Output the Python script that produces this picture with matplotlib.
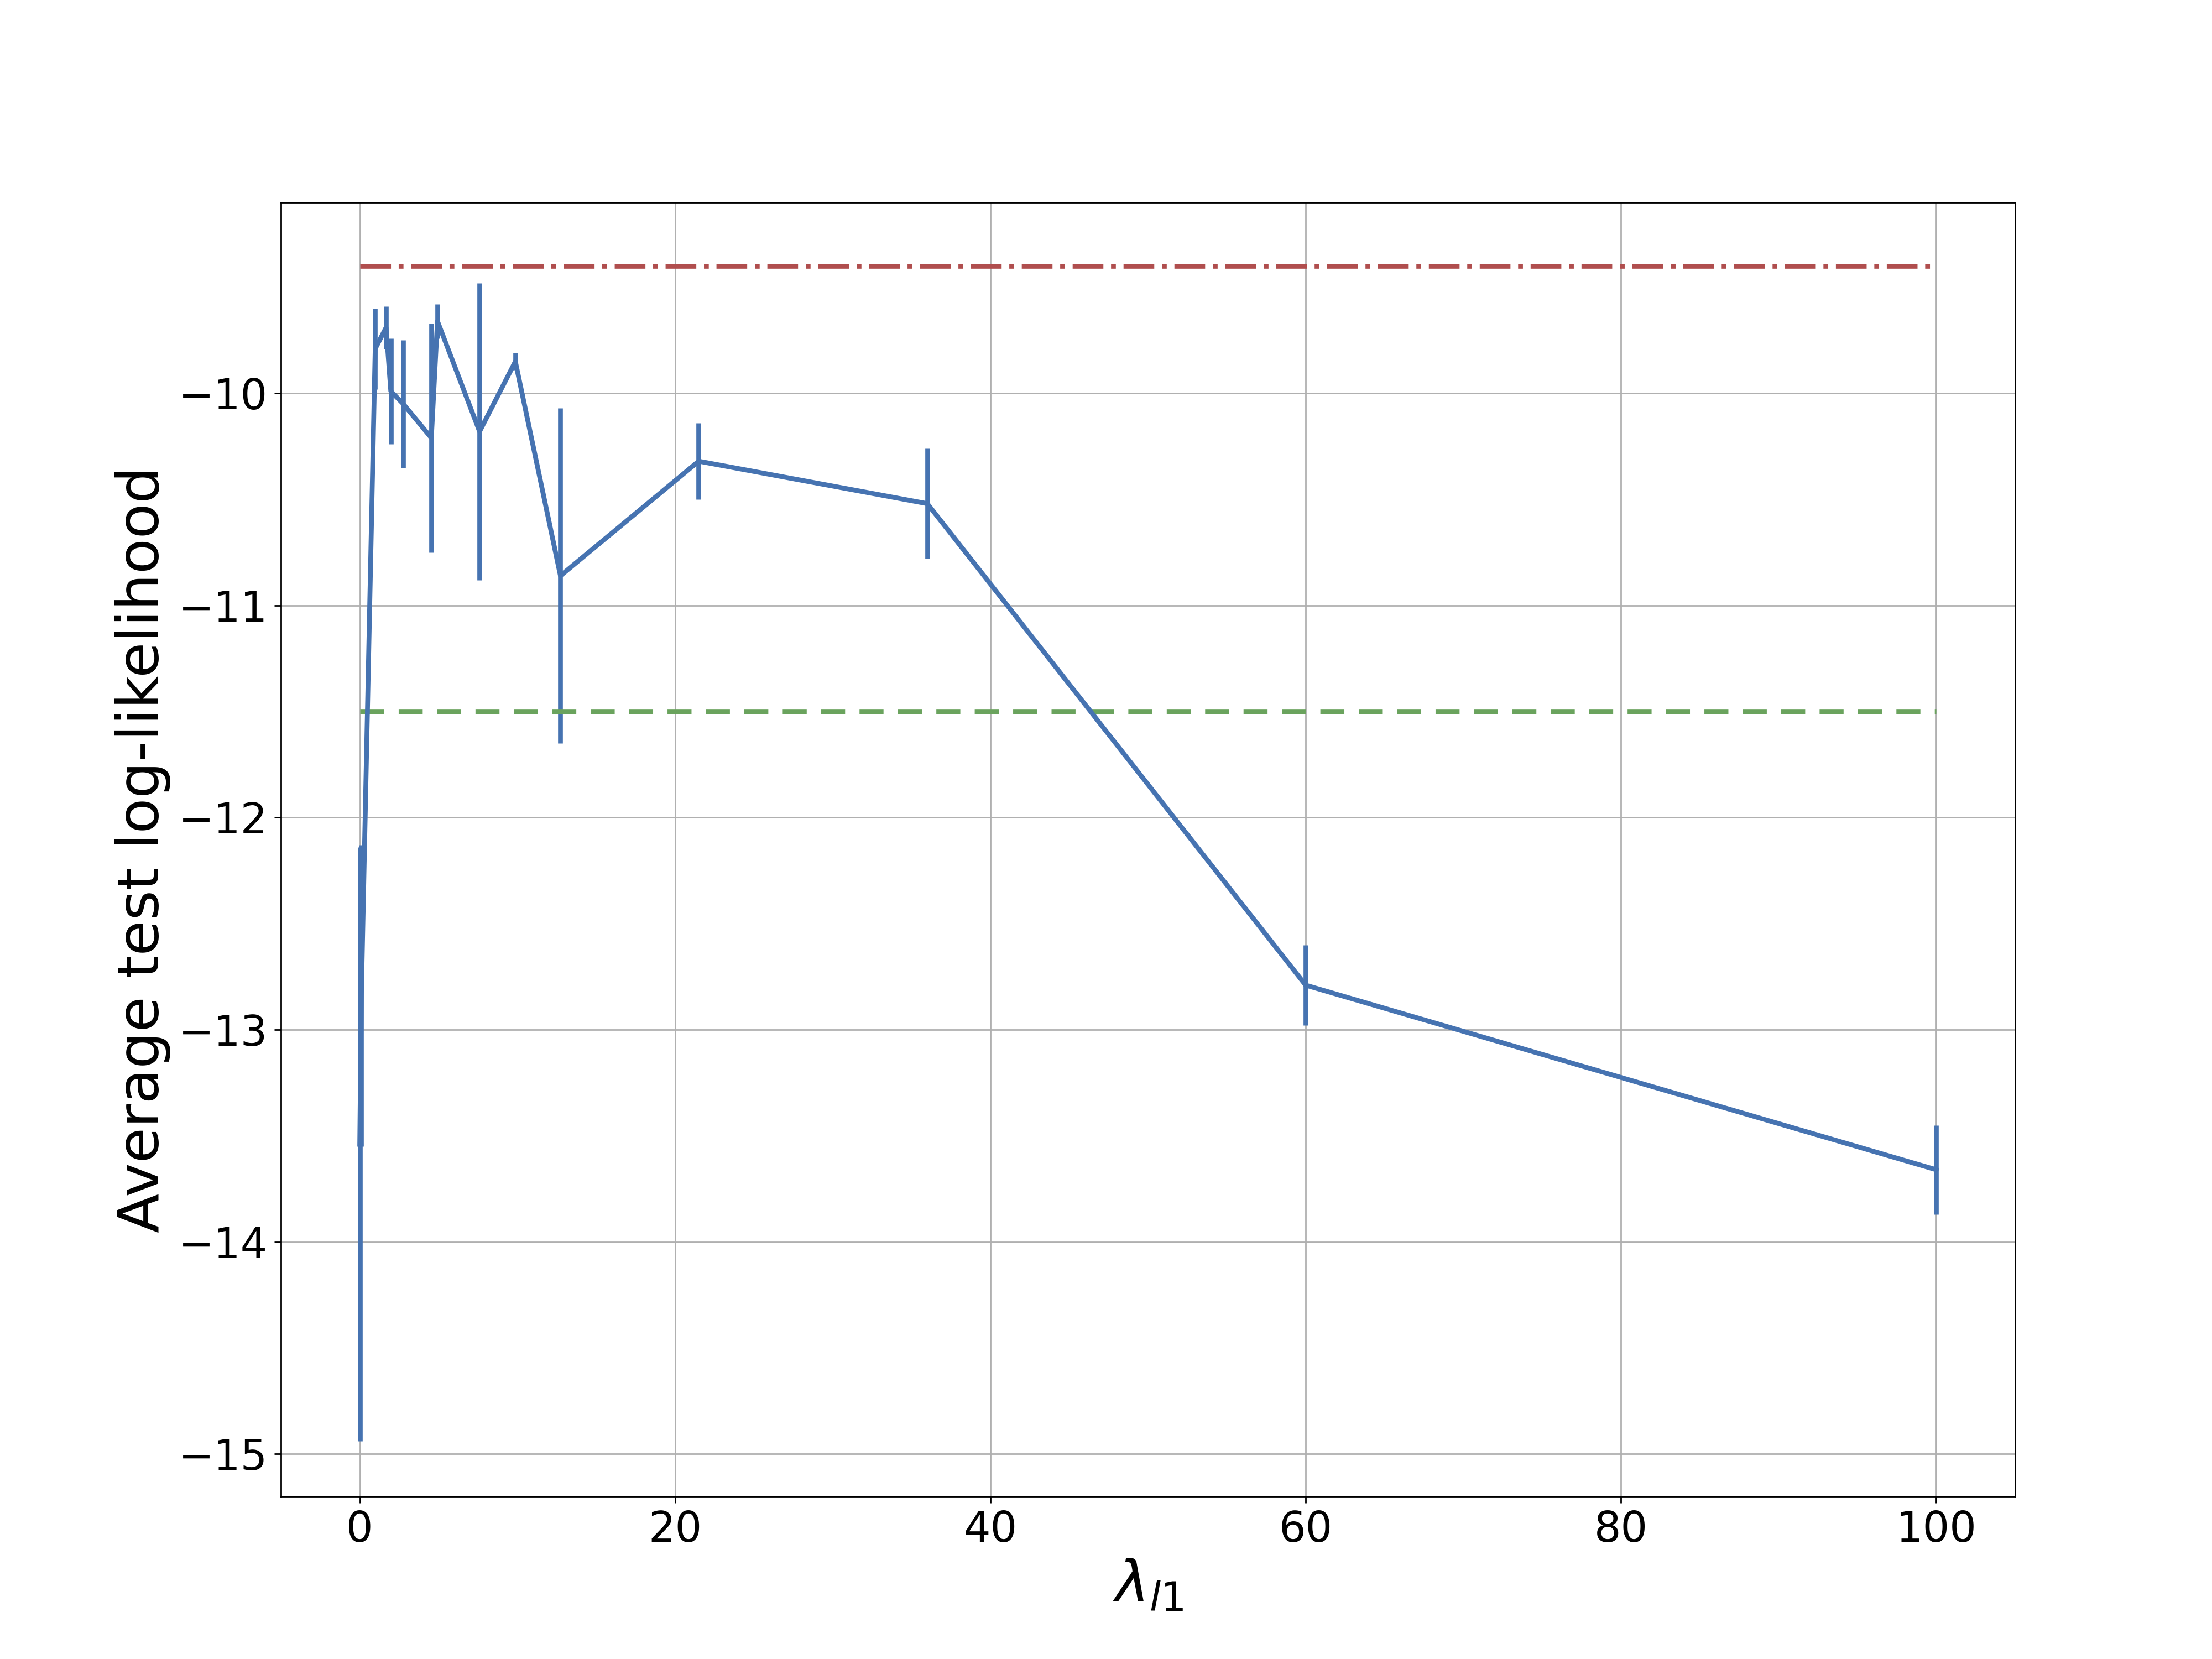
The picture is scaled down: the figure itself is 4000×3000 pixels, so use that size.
import numpy as np
import matplotlib.pyplot as plt

# lambda values, mean test log-likelihood and error bar half widths
lam = [0.0, 0.1, 0.98, 1.67, 1.97, 2.76, 4.54, 4.93, 7.6, 9.87, 12.73, 21.5, 36.0, 60.0, 100.0]
ll = [-13.54, -12.84, -9.79, -9.69, -9.99, -10.05, -10.21, -9.66, -10.18, -9.85, -10.86, -10.32, -10.52, -12.79, -13.66]
err = [1.40, 0.71, 0.19, 0.10, 0.25, 0.30, 0.54, 0.08, 0.70, 0.04, 0.79, 0.18, 0.26, 0.19, 0.21]
ref_red = -9.40
ref_green = -11.50

blue = '#4673b1'
red = '#b04e4e'
green = '#6aa35d'

fig = plt.figure(figsize=(16, 12), dpi=250)
ax = fig.add_axes([0.127, 0.098, 0.784, 0.780])
ax.errorbar(lam, ll, yerr=err, color=blue, lw=2.5, elinewidth=2.5)
ax.plot([lam[0], lam[-1]], [ref_red, ref_red], color=red, lw=2.5, ls='-.')
ax.plot([lam[0], lam[-1]], [ref_green, ref_green], color=green, lw=2.5, ls='--', dashes=(5, 3))
ax.set_xlim(-5, 105)
ax.set_ylim(-15.2, -9.1)
ax.set_yticks([-15, -14, -13, -12, -11, -10])
ax.grid(True, color='#b0b0b0', lw=0.8)
ax.tick_params(labelsize=22)
ax.set_xlabel(r'$\lambda_{l1}$', fontsize=30)
ax.set_ylabel('Average test log-likelihood', fontsize=30)
fig.savefig('out.png', dpi=250)
